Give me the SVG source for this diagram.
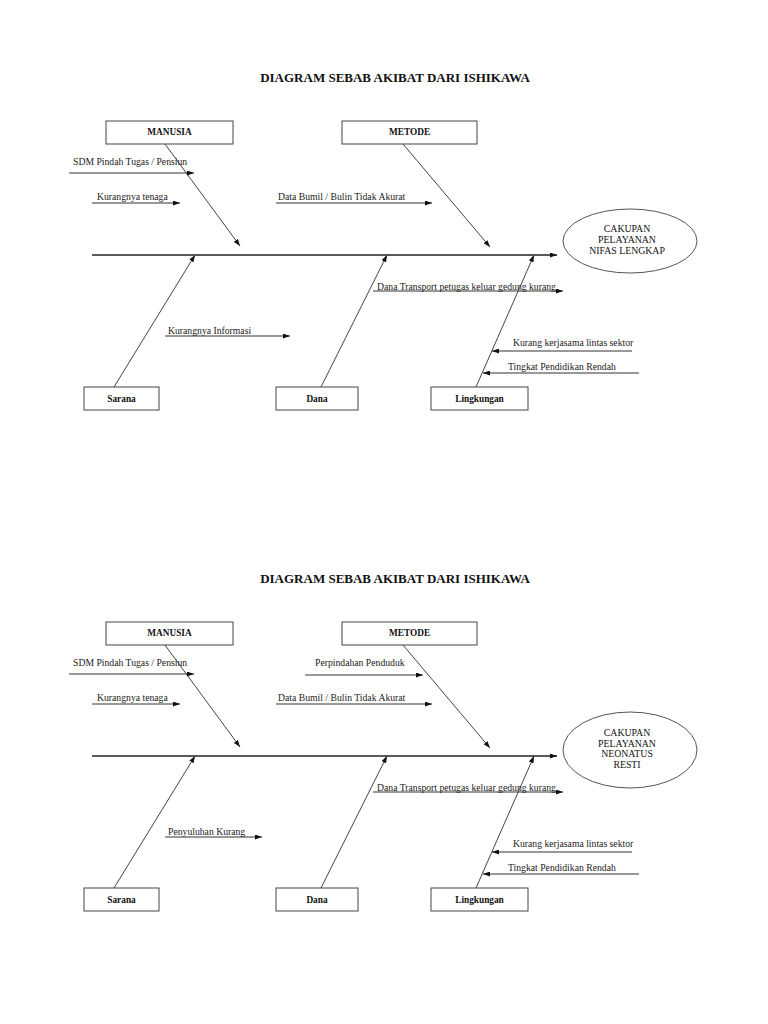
<svg xmlns="http://www.w3.org/2000/svg" width="768" height="1024" viewBox="0 0 768 1024">
<style>
.title{font-family:"Liberation Serif","Times New Roman",serif;font-size:13px;font-weight:bold;fill:#111;text-anchor:middle}
.box{fill:#fff;stroke:#444;stroke-width:1}
.boxt{font-family:"Liberation Serif","Times New Roman",serif;font-size:9.3px;font-weight:bold;fill:#111;text-anchor:middle}
.lbl{font-family:"Liberation Serif","Times New Roman",serif;font-size:9.7px;fill:#222}
.eff{fill:#fff;stroke:#555;stroke-width:1}
.efft{font-family:"Liberation Serif","Times New Roman",serif;font-size:9.8px;fill:#111;text-anchor:middle}
.bone{stroke:#444;stroke-width:1;fill:none;marker-end:url(#ah)}
.spine{stroke:#5a5a5a;stroke-width:2;fill:none;marker-end:url(#ah)}
.cause{stroke:#333;stroke-width:1;fill:none;marker-end:url(#ah)}
</style>
<defs>
<marker id="ah" markerUnits="userSpaceOnUse" markerWidth="7" markerHeight="5" refX="7" refY="2.5" orient="auto">
<path d="M0,0 L7,2.5 L0,5 z" fill="#111"/>
</marker>
</defs>
<rect width="768" height="1024" fill="#fff"/>

<!-- Diagram 1 -->
<g id="diagram1">
<text class="title" x="395" y="82">DIAGRAM SEBAB AKIBAT DARI ISHIKAWA</text>
<g id="d1-connectors">
<line class="spine" x1="92" y1="255" x2="557" y2="255"/>
<line class="bone" x1="165" y1="144" x2="240" y2="246"/>
<line class="bone" x1="403" y1="144" x2="490" y2="247"/>
<line class="bone" x1="114" y1="387" x2="195" y2="255"/>
<line class="bone" x1="321" y1="387" x2="387" y2="255"/>
<line class="bone" x1="476" y1="387" x2="534" y2="255"/>
<line class="cause" x1="69" y1="173" x2="194" y2="173"/>
<line class="cause" x1="92" y1="203" x2="180" y2="203"/>
<line class="cause" x1="276" y1="203" x2="432" y2="203"/>
<line class="cause" x1="165" y1="336" x2="290" y2="336"/>
<line class="cause" x1="373" y1="291" x2="563" y2="291"/>
<line class="cause" x1="632" y1="351" x2="492" y2="351"/>
<line class="cause" x1="639" y1="373" x2="483" y2="373"/>
</g>
<g id="d1-labels">
<text class="lbl" x="73" y="165">SDM Pindah Tugas / Pensiun</text>
<text class="lbl" x="97" y="200">Kurangnya tenaga</text>
<text class="lbl" x="278" y="200">Data Bumil / Bulin Tidak Akurat</text>
<text class="lbl" x="168" y="334">Kurangnya Informasi</text>
<text class="lbl" x="377" y="290">Dana  Transport petugas keluar gedung kurang</text>
<text class="lbl" x="513" y="346">Kurang kerjasama lintas sektor</text>
<text class="lbl" x="508" y="370">Tingkat Pendidikan Rendah</text>
</g>
<g id="d1-manusia"><rect class="box" x="106" y="121" width="127" height="23"/><text class="boxt" x="169.5" y="135">MANUSIA</text></g>
<g id="d1-metode"><rect class="box" x="342" y="121" width="135" height="23"/><text class="boxt" x="409.5" y="135">METODE</text></g>
<g id="d1-sarana"><rect class="box" x="84" y="387" width="75" height="23"/><text class="boxt" x="121.5" y="401.5">Sarana</text></g>
<g id="d1-dana"><rect class="box" x="276" y="387" width="82" height="23"/><text class="boxt" x="317" y="401.5">Dana</text></g>
<g id="d1-lingkungan"><rect class="box" x="431" y="387" width="97" height="23"/><text class="boxt" x="479.5" y="401.5">Lingkungan</text></g>
<g id="d1-effect">
<ellipse class="eff" cx="630" cy="241" rx="67" ry="32"/>
<text class="efft" x="627" y="231.5">CAKUPAN</text>
<text class="efft" x="627" y="242.5">PELAYANAN</text>
<text class="efft" x="627" y="253.5">NIFAS LENGKAP</text>
</g>
</g>

<!-- Diagram 2 -->
<g id="diagram2" transform="translate(0,501)">
<text class="title" x="395" y="82">DIAGRAM SEBAB AKIBAT DARI ISHIKAWA</text>
<g id="d2-connectors">
<line class="spine" x1="92" y1="255" x2="557" y2="255"/>
<line class="bone" x1="165" y1="144" x2="240" y2="246"/>
<line class="bone" x1="403" y1="144" x2="490" y2="247"/>
<line class="bone" x1="114" y1="387" x2="195" y2="255"/>
<line class="bone" x1="321" y1="387" x2="387" y2="255"/>
<line class="bone" x1="476" y1="387" x2="534" y2="255"/>
<line class="cause" x1="69" y1="173" x2="194" y2="173"/>
<line class="cause" x1="92" y1="203" x2="180" y2="203"/>
<line class="cause" x1="305" y1="174" x2="423" y2="174"/>
<line class="cause" x1="276" y1="203" x2="432" y2="203"/>
<line class="cause" x1="165" y1="336" x2="262" y2="336"/>
<line class="cause" x1="373" y1="291" x2="563" y2="291"/>
<line class="cause" x1="632" y1="351" x2="492" y2="351"/>
<line class="cause" x1="639" y1="373" x2="483" y2="373"/>
</g>
<g id="d2-labels">
<text class="lbl" x="73" y="165">SDM Pindah Tugas / Pensiun</text>
<text class="lbl" x="97" y="200">Kurangnya tenaga</text>
<text class="lbl" x="315" y="165">Perpindahan Penduduk</text>
<text class="lbl" x="278" y="200">Data Bumil / Bulin Tidak Akurat</text>
<text class="lbl" x="168" y="334">Penyuluhan Kurang</text>
<text class="lbl" x="377" y="290">Dana  Transport petugas keluar gedung kurang</text>
<text class="lbl" x="513" y="346">Kurang kerjasama lintas sektor</text>
<text class="lbl" x="508" y="370">Tingkat Pendidikan Rendah</text>
</g>
<g id="d2-manusia"><rect class="box" x="106" y="121" width="127" height="23"/><text class="boxt" x="169.5" y="135">MANUSIA</text></g>
<g id="d2-metode"><rect class="box" x="342" y="121" width="135" height="23"/><text class="boxt" x="409.5" y="135">METODE</text></g>
<g id="d2-sarana"><rect class="box" x="84" y="387" width="75" height="23"/><text class="boxt" x="121.5" y="401.5">Sarana</text></g>
<g id="d2-dana"><rect class="box" x="276" y="387" width="82" height="23"/><text class="boxt" x="317" y="401.5">Dana</text></g>
<g id="d2-lingkungan"><rect class="box" x="431" y="387" width="97" height="23"/><text class="boxt" x="479.5" y="401.5">Lingkungan</text></g>
<g id="d2-effect">
<ellipse class="eff" cx="630" cy="249" rx="67" ry="38"/>
<text class="efft" x="627" y="234.5">CAKUPAN</text>
<text class="efft" x="627" y="245.5">PELAYANAN</text>
<text class="efft" x="627" y="256">NEONATUS</text>
<text class="efft" x="627" y="266.5">RESTI</text>
</g>
</g>
</svg>
